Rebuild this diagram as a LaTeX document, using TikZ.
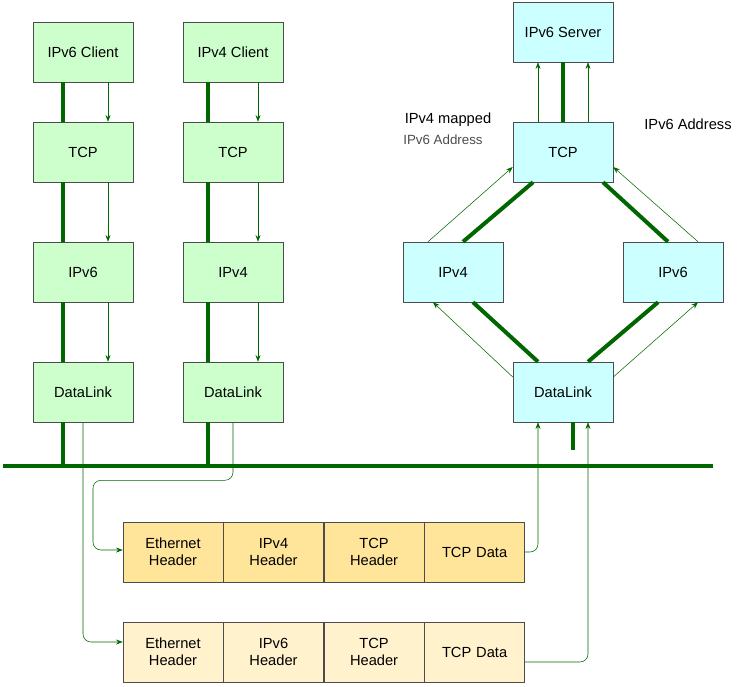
\documentclass[tikz,border=0pt]{standalone}
\usepackage{fontspec}
\setmainfont{Liberation Sans}
\usetikzlibrary{arrows.meta,positioning}
\definecolor{lgreen}{HTML}{CCFFCC}
\definecolor{lcyan}{HTML}{CCFFFF}
\definecolor{dgreen}{HTML}{006600}
\definecolor{pkta}{HTML}{FFE599}
\definecolor{pktb}{HTML}{FFF2CC}
\tikzset{
  box/.style={draw=black!70, minimum width=75pt, minimum height=45pt, inner sep=0pt, font=\fontsize{11}{13}\selectfont, align=center},
  hbox/.style={box, fill=lgreen},
  sbox/.style={box, fill=lcyan},
  cell/.style={box, fill=#1, text width=70pt},
  thick line/.style={draw=dgreen, line width=3pt},
  flow/.style={draw=dgreen, -{Stealth[length=5pt]}, rounded corners=6pt},
}
\begin{document}
\begin{tikzpicture}[x=0.75pt,y=-0.75pt]
\useasboundingbox (0,0) rectangle (755,686);
% bus
\draw[thick line] (3,466) -- (713,466);
% left host
\node[hbox] (c6) at (83,52) {IPv6 Client};
\node[hbox] (t6) at (83,152) {TCP};
\node[hbox] (n6) at (83,272) {IPv6};
\node[hbox] (d6) at (83,392) {DataLink};
\node[hbox] (c4) at (233,52) {IPv4 Client};
\node[hbox] (t4) at (233,152) {TCP};
\node[hbox] (n4) at (233,272) {IPv4};
\node[hbox] (d4) at (233,392) {DataLink};
\begin{scope}[on background layer/.style={}]
\end{scope}
\foreach \a/\b in {c6/t6,t6/n6,n6/d6} {
  \draw[thick line] ([xshift=-15pt]\a.south) -- ([xshift=-15pt]\b.north);
  \draw[flow] ([xshift=18.75pt]\a.south) -- ([xshift=18.75pt]\b.north);
}
\foreach \a/\b in {c4/t4,t4/n4,n4/d4} {
  \draw[thick line] ([xshift=-18.75pt]\a.south) -- ([xshift=-18.75pt]\b.north);
  \draw[flow] ([xshift=18.75pt]\a.south) -- ([xshift=18.75pt]\b.north);
}
\draw[thick line] ([xshift=-15pt]d6.south) -- ++(0,44);
\draw[thick line] ([xshift=-18.75pt]d4.south) -- ++(0,44);
% server
\node[sbox] (srv) at (563,32) {IPv6 Server};
\node[sbox] (ts) at (563,152) {TCP};
\node[sbox] (s4) at (453,272) {IPv4};
\node[sbox] (s6) at (673,272) {IPv6};
\node[sbox] (ds) at (563,392) {DataLink};
\draw[thick line] (ts.north) -- (srv.south);
\draw[flow] ([xshift=-18.75pt]ts.north) -- ([xshift=-18.75pt]srv.south);
\draw[flow] ([xshift=18.75pt]ts.north) -- ([xshift=18.75pt]srv.south);
\draw[thick line] ([xshift=-22.5pt]ts.south) -- ([xshift=7.5pt]s4.north);
\draw[thick line] ([xshift=30pt]ts.south) -- ([xshift=-3.75pt]s6.north);
\draw[thick line] ([xshift=15pt]s4.south) -- ([xshift=-18.75pt]ds.north);
\draw[thick line] ([xshift=-11.25pt]s6.south) -- ([xshift=18.75pt]ds.north);
\draw[flow] ([xshift=-18.75pt]s4.north) -- ([yshift=-11.25pt]ts.west);
\draw[flow] ([xshift=18.75pt]s6.north) -- ([yshift=-11.25pt]ts.east);
\draw[flow] ([yshift=11.25pt]ds.west) -- ([xshift=-15pt]s4.south);
\draw[flow] ([yshift=11.25pt]ds.east) -- ([xshift=18.75pt]s6.south);
\draw[thick line] ([xshift=7.5pt]ds.south) -- ++(0,28);
\node[font=\fontsize{11}{13}\selectfont] (lm) at (448,120) {IPv4 mapped};
\node[font=\fontsize{10}{12}\selectfont, text=black!70] (la) at (443,140) {IPv6 Address};
\node[font=\fontsize{11}{13}\selectfont] (lr) at (688,124) {IPv6 Address};
% packets
\node[cell=pkta] (e4) at (173,552) {Ethernet\\Header};
\node[cell=pkta, right=0pt of e4] (i4) {IPv4\\Header};
\node[cell=pkta, right=0pt of i4] (h4) {TCP\\Header};
\node[cell=pkta, right=0pt of h4] (p4) {TCP Data};
\node[cell=pktb] (e6) at (173,652) {Ethernet\\Header};
\node[cell=pktb, right=0pt of e6] (i6) {IPv6\\Header};
\node[cell=pktb, right=0pt of i6] (h6) {TCP\\Header};
\node[cell=pktb, right=0pt of h6] (p6) {TCP Data};
\draw[flow] (d4.south) -- ++(0,58) -| (93,550) -- (e4.west |- 0,550);
\draw[flow] (d6.south) |- (e6.west |- 0,642);
\draw[flow] (p4.east) -| ([xshift=-18.75pt]ds.south);
\draw[flow] ([yshift=-7.5pt]p6.east) -| ([xshift=18.75pt]ds.south);
\end{tikzpicture}
\end{document}
